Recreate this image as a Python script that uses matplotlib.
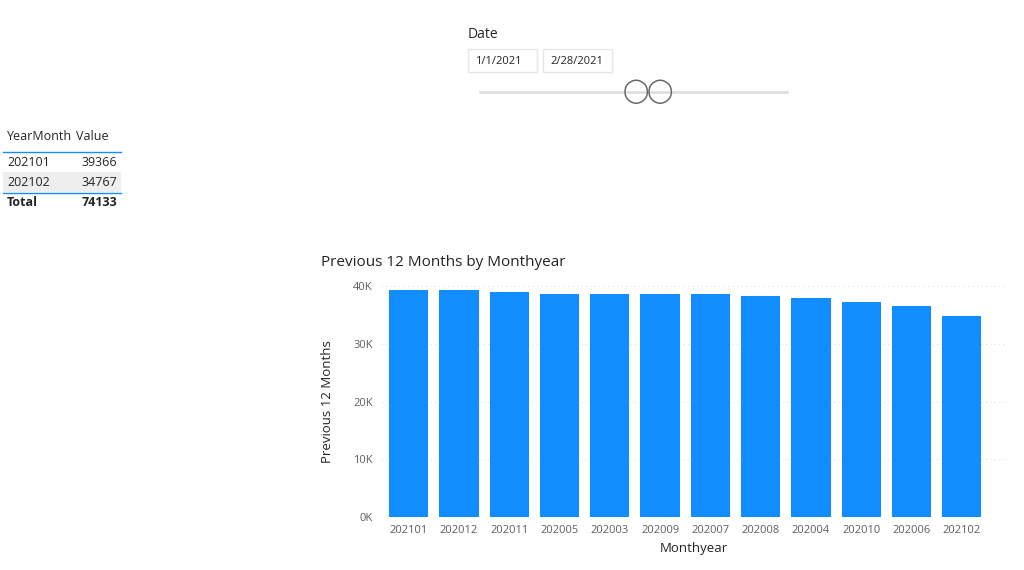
import matplotlib
matplotlib.use("Agg")
import matplotlib.pyplot as plt
from matplotlib.patches import Rectangle
from matplotlib.lines import Line2D

categories = ["202101","202012","202011","202005","202003","202009","202007","202008","202004","202010","202006","202102"]
values = [39366, 39300, 38950, 38650, 38600, 38600, 38600, 38250, 37900, 37150, 36500, 34767]
table_rows = [("202101", "39366"), ("202102", "34767")]
table_total = "74133"
date_start, date_end = "1/1/2021", "2/28/2021"

plt.rcParams['font.family'] = ['Open Sans', 'DejaVu Sans']
W, H = 1024, 570
fig = plt.figure(figsize=(W/100, H/100), dpi=100)
def fx(x): return x / W
def fy(y): return 1 - y / H

# Slicer
fig.text(fx(468), fy(35), "Date", fontsize=10, color="#252423", va="center")
for x0, x1, t in [(468, 537, date_start), (543, 612, date_end)]:
    fig.patches.append(Rectangle((fx(x0), fy(72)), fx(x1 - x0), (72 - 49) / H, transform=fig.transFigure,
                                 fill=False, edgecolor="#e6e6e6", lw=1))
    fig.text(fx(x0 + 7), fy(61), t, fontsize=8, color="#252423", va="center")
fig.lines.append(Line2D([fx(480), fx(787)], [fy(92), fy(92)], transform=fig.transFigure, color="#e0e0e0", lw=2))
for cx in (636, 660):
    fig.text(fx(cx), fy(92), "◯", fontsize=17, color="#666666", ha="center", va="center")

# Table
fig.text(fx(7), fy(136), "YearMonth", fontsize=9, color="#252423", va="center")
fig.text(fx(109), fy(136), "Value", fontsize=9, color="#252423", va="center", ha="right")
fig.lines.append(Line2D([fx(3), fx(121)], [fy(152), fy(152)], transform=fig.transFigure, color="#118dff", lw=1))
fig.patches.append(Rectangle((fx(3), fy(192)), fx(118), 20 / H, transform=fig.transFigure, color="#eeeeee", lw=0))
for i, (ym, v) in enumerate(table_rows):
    y = 162 + 20 * i
    fig.text(fx(7), fy(y), ym, fontsize=9, color="#252423", va="center")
    fig.text(fx(117), fy(y), v, fontsize=9, color="#252423", va="center", ha="right")
fig.lines.append(Line2D([fx(3), fx(121)], [fy(193), fy(193)], transform=fig.transFigure, color="#118dff", lw=1))
fig.text(fx(7), fy(203), "Total", fontsize=9, color="#252423", va="center", weight="bold")
fig.text(fx(117), fy(203), table_total, fontsize=9, color="#252423", va="center", ha="right", weight="bold")

# Bar chart
ax = fig.add_axes([fx(381), fy(517), fx(1007 - 381), (517 - 286) / H])
ax.bar(range(len(categories)), values, width=0.78, color="#118dff")
ax.set_xlim(-0.55, len(categories) - 0.1)
ax.set_ylim(0, 40000)
ax.set_yticks([0, 10000, 20000, 30000, 40000])
ax.set_yticklabels(["0K", "10K", "20K", "30K", "40K"])
ax.set_xticks(range(len(categories)))
ax.set_xticklabels(categories)
ax.tick_params(length=0, labelsize=8, colors="#605e5c", pad=6)
ax.grid(axis="y", color="#dddddd", linestyle=(0, (1, 3)), lw=0.8)
ax.set_axisbelow(True)
for s in ax.spines.values():
    s.set_visible(False)
ax.set_xlabel("Monthyear", fontsize=9.5, color="#252423", labelpad=4)
ax.set_ylabel("Previous 12 Months", fontsize=9.5, color="#252423", labelpad=14)
fig.text(fx(321), fy(263), "Previous 12 Months by Monthyear", fontsize=11, color="#252423", va="center")

fig.savefig("out.png", dpi=100, facecolor="white")
